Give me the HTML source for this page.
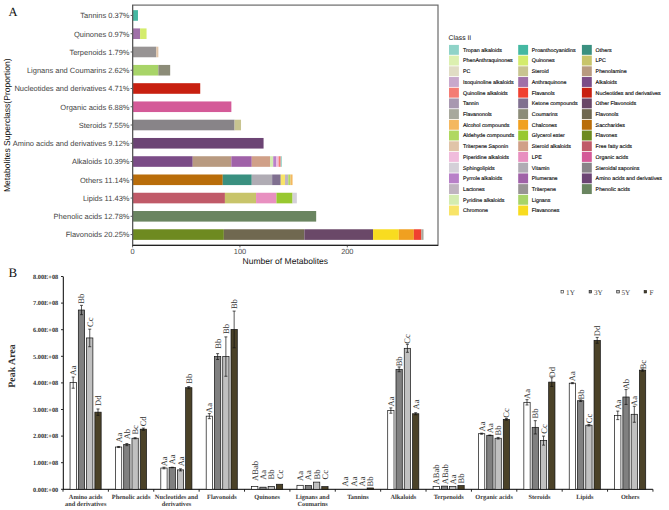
<!DOCTYPE html><html><head><meta charset="utf-8"><style>html,body{margin:0;padding:0;background:#fff;}svg{display:block;}</style></head><body>
<svg width="669" height="510" viewBox="0 0 669 510" text-rendering="geometricPrecision">
<rect x="0" y="0" width="669" height="510" fill="#fff"/>
<text x="8.4" y="16.2" font-family="Liberation Serif, serif" font-size="12.5" fill="#111">A</text>
<rect x="132.60" y="10.15" width="5.37" height="10.6" fill="#45b8a2"/>
<line x1="130.6" y1="15.45" x2="132.6" y2="15.45" stroke="#333" stroke-width="0.8"/>
<text x="129.50" y="18.25" text-anchor="end" font-family="Liberation Sans, sans-serif" font-size="7.5" fill="#444">Tannins 0.37%</text>
<rect x="132.60" y="28.41" width="7.51" height="10.6" fill="#a070a8"/>
<rect x="140.11" y="28.41" width="6.44" height="10.6" fill="#d4ec6c"/>
<line x1="130.6" y1="33.71" x2="132.6" y2="33.71" stroke="#333" stroke-width="0.8"/>
<text x="129.50" y="36.51" text-anchor="end" font-family="Liberation Sans, sans-serif" font-size="7.5" fill="#444">Quinones 0.97%</text>
<rect x="132.60" y="46.67" width="23.62" height="10.6" fill="#989494"/>
<rect x="156.22" y="46.67" width="2.15" height="10.6" fill="#e0c4a8"/>
<line x1="130.6" y1="51.97" x2="132.6" y2="51.97" stroke="#333" stroke-width="0.8"/>
<text x="129.50" y="54.77" text-anchor="end" font-family="Liberation Sans, sans-serif" font-size="7.5" fill="#444">Terpenoids 1.79%</text>
<rect x="132.60" y="64.93" width="25.76" height="10.6" fill="#a8d468"/>
<rect x="158.36" y="64.93" width="11.81" height="10.6" fill="#8c8c78"/>
<line x1="130.6" y1="70.23" x2="132.6" y2="70.23" stroke="#333" stroke-width="0.8"/>
<text x="129.50" y="73.03" text-anchor="end" font-family="Liberation Sans, sans-serif" font-size="7.5" fill="#444">Lignans and Coumarins 2.62%</text>
<rect x="132.60" y="83.19" width="67.63" height="10.6" fill="#c82010"/>
<line x1="130.6" y1="88.49" x2="132.6" y2="88.49" stroke="#333" stroke-width="0.8"/>
<text x="129.50" y="91.29" text-anchor="end" font-family="Liberation Sans, sans-serif" font-size="7.5" fill="#444">Nucleotides and derivatives 4.71%</text>
<rect x="132.60" y="101.45" width="98.76" height="10.6" fill="#d45a98"/>
<line x1="130.6" y1="106.75" x2="132.6" y2="106.75" stroke="#333" stroke-width="0.8"/>
<text x="129.50" y="109.55" text-anchor="end" font-family="Liberation Sans, sans-serif" font-size="7.5" fill="#444">Organic acids 6.88%</text>
<rect x="132.60" y="119.71" width="101.98" height="10.6" fill="#888488"/>
<rect x="234.58" y="119.71" width="6.44" height="10.6" fill="#c8c490"/>
<line x1="130.6" y1="125.01" x2="132.6" y2="125.01" stroke="#333" stroke-width="0.8"/>
<text x="129.50" y="127.81" text-anchor="end" font-family="Liberation Sans, sans-serif" font-size="7.5" fill="#444">Steroids 7.55%</text>
<rect x="132.60" y="137.97" width="130.97" height="10.6" fill="#6c4474"/>
<line x1="130.6" y1="143.27" x2="132.6" y2="143.27" stroke="#333" stroke-width="0.8"/>
<text x="129.50" y="146.07" text-anchor="end" font-family="Liberation Sans, sans-serif" font-size="7.5" fill="#444">Amino acids and derivatives 9.12%</text>
<rect x="132.60" y="156.23" width="60.12" height="10.6" fill="#7b4c87"/>
<rect x="192.72" y="156.23" width="38.65" height="10.6" fill="#b89a80"/>
<rect x="231.36" y="156.23" width="20.40" height="10.6" fill="#a062a8"/>
<rect x="251.76" y="156.23" width="18.25" height="10.6" fill="#d0a088"/>
<rect x="270.01" y="156.23" width="3.22" height="10.6" fill="#d4ecb0"/>
<rect x="273.23" y="156.23" width="3.22" height="10.6" fill="#b880c8"/>
<rect x="276.45" y="156.23" width="2.15" height="10.6" fill="#f0bcdc"/>
<rect x="278.60" y="156.23" width="2.15" height="10.6" fill="#f47c74"/>
<rect x="280.74" y="156.23" width="1.07" height="10.6" fill="#8fd3c8"/>
<line x1="130.6" y1="161.53" x2="132.6" y2="161.53" stroke="#333" stroke-width="0.8"/>
<text x="129.50" y="164.33" text-anchor="end" font-family="Liberation Sans, sans-serif" font-size="7.5" fill="#444">Alkaloids 10.39%</text>
<rect x="132.60" y="174.49" width="90.17" height="10.6" fill="#b96d0a"/>
<rect x="222.77" y="174.49" width="28.98" height="10.6" fill="#3a9080"/>
<rect x="251.76" y="174.49" width="20.40" height="10.6" fill="#b0acb4"/>
<rect x="272.15" y="174.49" width="8.59" height="10.6" fill="#807090"/>
<rect x="280.74" y="174.49" width="4.29" height="10.6" fill="#f8e468"/>
<rect x="285.04" y="174.49" width="3.22" height="10.6" fill="#c0b4c0"/>
<rect x="288.26" y="174.49" width="2.15" height="10.6" fill="#b0d860"/>
<rect x="290.40" y="174.49" width="2.15" height="10.6" fill="#f4b860"/>
<line x1="130.6" y1="179.79" x2="132.6" y2="179.79" stroke="#333" stroke-width="0.8"/>
<text x="129.50" y="182.59" text-anchor="end" font-family="Liberation Sans, sans-serif" font-size="7.5" fill="#444">Others 11.14%</text>
<rect x="132.60" y="192.75" width="92.32" height="10.6" fill="#c05a68"/>
<rect x="224.92" y="192.75" width="31.13" height="10.6" fill="#c8c46a"/>
<rect x="256.05" y="192.75" width="20.40" height="10.6" fill="#e890c0"/>
<rect x="276.45" y="192.75" width="16.10" height="10.6" fill="#98c830"/>
<rect x="292.55" y="192.75" width="4.29" height="10.6" fill="#d4d0d8"/>
<line x1="130.6" y1="198.05" x2="132.6" y2="198.05" stroke="#333" stroke-width="0.8"/>
<text x="129.50" y="200.85" text-anchor="end" font-family="Liberation Sans, sans-serif" font-size="7.5" fill="#444">Lipids 11.43%</text>
<rect x="132.60" y="211.01" width="183.57" height="10.6" fill="#6a8560"/>
<line x1="130.6" y1="216.31" x2="132.6" y2="216.31" stroke="#333" stroke-width="0.8"/>
<text x="129.50" y="219.11" text-anchor="end" font-family="Liberation Sans, sans-serif" font-size="7.5" fill="#444">Phenolic acids 12.78%</text>
<rect x="132.60" y="229.27" width="91.25" height="10.6" fill="#6e8a20"/>
<rect x="223.85" y="229.27" width="80.51" height="10.6" fill="#706850"/>
<rect x="304.36" y="229.27" width="68.70" height="10.6" fill="#6a4868"/>
<rect x="373.06" y="229.27" width="25.76" height="10.6" fill="#f8dc20"/>
<rect x="398.83" y="229.27" width="15.03" height="10.6" fill="#f0a020"/>
<rect x="413.86" y="229.27" width="7.51" height="10.6" fill="#f04030"/>
<rect x="421.37" y="229.27" width="2.15" height="10.6" fill="#a8a89c"/>
<line x1="130.6" y1="234.57" x2="132.6" y2="234.57" stroke="#333" stroke-width="0.8"/>
<text x="129.50" y="237.37" text-anchor="end" font-family="Liberation Sans, sans-serif" font-size="7.5" fill="#444">Flavonoids 20.25%</text>
<rect x="132.6" y="5.1" width="305.4" height="240.3" fill="none" stroke="#6a6a6a" stroke-width="1.2"/>
<line x1="132.6" y1="245.4" x2="438.0" y2="245.4" stroke="#222" stroke-width="1.1"/>
<line x1="132.6" y1="5.1" x2="132.6" y2="245.4" stroke="#5a5a5a" stroke-width="1.1"/>
<line x1="132.60" y1="245.4" x2="132.60" y2="247.4" stroke="#333" stroke-width="0.8"/>
<text x="132.60" y="254.00" text-anchor="middle" font-family="Liberation Sans, sans-serif" font-size="7.4" fill="#4d4d4d">0</text>
<line x1="239.95" y1="245.4" x2="239.95" y2="247.4" stroke="#333" stroke-width="0.8"/>
<text x="239.95" y="254.00" text-anchor="middle" font-family="Liberation Sans, sans-serif" font-size="7.4" fill="#4d4d4d">100</text>
<line x1="347.30" y1="245.4" x2="347.30" y2="247.4" stroke="#333" stroke-width="0.8"/>
<text x="347.30" y="254.00" text-anchor="middle" font-family="Liberation Sans, sans-serif" font-size="7.4" fill="#4d4d4d">200</text>
<text x="285.30" y="263.8" text-anchor="middle" font-family="Liberation Sans, sans-serif" font-size="8.5" fill="#111">Number of Metabolites</text>
<text transform="translate(10.2,125.25) rotate(-90)" text-anchor="middle" font-family="Liberation Sans, sans-serif" font-size="8.55" fill="#111">Metabolites Superclass(Proportion)</text>
<text x="448.6" y="40.4" font-family="Liberation Sans, sans-serif" font-size="6.8" fill="#111">Class II</text>
<rect x="449.0" y="44.90" width="9.9" height="9.9" fill="#8fd3c8"/>
<text x="463.0" y="51.75" font-family="Liberation Sans, sans-serif" font-size="5.34" fill="#000" stroke="#000" stroke-width="0.12">Tropan alkaloids</text>
<rect x="449.0" y="55.61" width="9.9" height="9.9" fill="#dcf0b0"/>
<text x="463.0" y="62.46" font-family="Liberation Sans, sans-serif" font-size="5.34" fill="#000" stroke="#000" stroke-width="0.12">PhenAnthraquinones</text>
<rect x="449.0" y="66.32" width="9.9" height="9.9" fill="#e0dcc4"/>
<text x="463.0" y="73.17" font-family="Liberation Sans, sans-serif" font-size="5.34" fill="#000" stroke="#000" stroke-width="0.12">PC</text>
<rect x="449.0" y="77.03" width="9.9" height="9.9" fill="#c8a8cc"/>
<text x="463.0" y="83.88" font-family="Liberation Sans, sans-serif" font-size="5.34" fill="#000" stroke="#000" stroke-width="0.12">Isoquinoline alkaloids</text>
<rect x="449.0" y="87.74" width="9.9" height="9.9" fill="#f47c74"/>
<text x="463.0" y="94.59" font-family="Liberation Sans, sans-serif" font-size="5.34" fill="#000" stroke="#000" stroke-width="0.12">Quinoline alkaloids</text>
<rect x="449.0" y="98.45" width="9.9" height="9.9" fill="#a898b0"/>
<text x="463.0" y="105.30" font-family="Liberation Sans, sans-serif" font-size="5.34" fill="#000" stroke="#000" stroke-width="0.12">Tannin</text>
<rect x="449.0" y="109.16" width="9.9" height="9.9" fill="#a8a89c"/>
<text x="463.0" y="116.01" font-family="Liberation Sans, sans-serif" font-size="5.34" fill="#000" stroke="#000" stroke-width="0.12">Flavanonols</text>
<rect x="449.0" y="119.87" width="9.9" height="9.9" fill="#f4b860"/>
<text x="463.0" y="126.72" font-family="Liberation Sans, sans-serif" font-size="5.34" fill="#000" stroke="#000" stroke-width="0.12">Alcohol compounds</text>
<rect x="449.0" y="130.58" width="9.9" height="9.9" fill="#b0d860"/>
<text x="463.0" y="137.43" font-family="Liberation Sans, sans-serif" font-size="5.34" fill="#000" stroke="#000" stroke-width="0.12">Aldehyde compounds</text>
<rect x="449.0" y="141.29" width="9.9" height="9.9" fill="#e0c4a8"/>
<text x="463.0" y="148.14" font-family="Liberation Sans, sans-serif" font-size="5.34" fill="#000" stroke="#000" stroke-width="0.12">Triterpene Saponin</text>
<rect x="449.0" y="152.00" width="9.9" height="9.9" fill="#f0bcdc"/>
<text x="463.0" y="158.85" font-family="Liberation Sans, sans-serif" font-size="5.34" fill="#000" stroke="#000" stroke-width="0.12">Piperidine alkaloids</text>
<rect x="449.0" y="162.71" width="9.9" height="9.9" fill="#d4d0d8"/>
<text x="463.0" y="169.56" font-family="Liberation Sans, sans-serif" font-size="5.34" fill="#000" stroke="#000" stroke-width="0.12">Sphingolipids</text>
<rect x="449.0" y="173.42" width="9.9" height="9.9" fill="#b880c8"/>
<text x="463.0" y="180.27" font-family="Liberation Sans, sans-serif" font-size="5.34" fill="#000" stroke="#000" stroke-width="0.12">Pyrrole alkaloids</text>
<rect x="449.0" y="184.13" width="9.9" height="9.9" fill="#c0b4c0"/>
<text x="463.0" y="190.98" font-family="Liberation Sans, sans-serif" font-size="5.34" fill="#000" stroke="#000" stroke-width="0.12">Lactones</text>
<rect x="449.0" y="194.84" width="9.9" height="9.9" fill="#d4ecb0"/>
<text x="463.0" y="201.69" font-family="Liberation Sans, sans-serif" font-size="5.34" fill="#000" stroke="#000" stroke-width="0.12">Pyridine alkaloids</text>
<rect x="449.0" y="205.55" width="9.9" height="9.9" fill="#f8e468"/>
<text x="463.0" y="212.40" font-family="Liberation Sans, sans-serif" font-size="5.34" fill="#000" stroke="#000" stroke-width="0.12">Chromone</text>
<rect x="518.2" y="44.90" width="9.9" height="9.9" fill="#45b8a2"/>
<text x="531.8" y="51.75" font-family="Liberation Sans, sans-serif" font-size="5.34" fill="#000" stroke="#000" stroke-width="0.12">Proanthocyanidins</text>
<rect x="518.2" y="55.61" width="9.9" height="9.9" fill="#d4ec6c"/>
<text x="531.8" y="62.46" font-family="Liberation Sans, sans-serif" font-size="5.34" fill="#000" stroke="#000" stroke-width="0.12">Quinones</text>
<rect x="518.2" y="66.32" width="9.9" height="9.9" fill="#c8c490"/>
<text x="531.8" y="73.17" font-family="Liberation Sans, sans-serif" font-size="5.34" fill="#000" stroke="#000" stroke-width="0.12">Steroid</text>
<rect x="518.2" y="77.03" width="9.9" height="9.9" fill="#a070a8"/>
<text x="531.8" y="83.88" font-family="Liberation Sans, sans-serif" font-size="5.34" fill="#000" stroke="#000" stroke-width="0.12">Anthraquinone</text>
<rect x="518.2" y="87.74" width="9.9" height="9.9" fill="#f04030"/>
<text x="531.8" y="94.59" font-family="Liberation Sans, sans-serif" font-size="5.34" fill="#000" stroke="#000" stroke-width="0.12">Flavanols</text>
<rect x="518.2" y="98.45" width="9.9" height="9.9" fill="#807090"/>
<text x="531.8" y="105.30" font-family="Liberation Sans, sans-serif" font-size="5.34" fill="#000" stroke="#000" stroke-width="0.12">Ketone compounds</text>
<rect x="518.2" y="109.16" width="9.9" height="9.9" fill="#8c8c78"/>
<text x="531.8" y="116.01" font-family="Liberation Sans, sans-serif" font-size="5.34" fill="#000" stroke="#000" stroke-width="0.12">Coumarins</text>
<rect x="518.2" y="119.87" width="9.9" height="9.9" fill="#f0a020"/>
<text x="531.8" y="126.72" font-family="Liberation Sans, sans-serif" font-size="5.34" fill="#000" stroke="#000" stroke-width="0.12">Chalcones</text>
<rect x="518.2" y="130.58" width="9.9" height="9.9" fill="#98c830"/>
<text x="531.8" y="137.43" font-family="Liberation Sans, sans-serif" font-size="5.34" fill="#000" stroke="#000" stroke-width="0.12">Glycerol ester</text>
<rect x="518.2" y="141.29" width="9.9" height="9.9" fill="#d0a088"/>
<text x="531.8" y="148.14" font-family="Liberation Sans, sans-serif" font-size="5.34" fill="#000" stroke="#000" stroke-width="0.12">Steroid alkaloids</text>
<rect x="518.2" y="152.00" width="9.9" height="9.9" fill="#e890c0"/>
<text x="531.8" y="158.85" font-family="Liberation Sans, sans-serif" font-size="5.34" fill="#000" stroke="#000" stroke-width="0.12">LPE</text>
<rect x="518.2" y="162.71" width="9.9" height="9.9" fill="#b0acb4"/>
<text x="531.8" y="169.56" font-family="Liberation Sans, sans-serif" font-size="5.34" fill="#000" stroke="#000" stroke-width="0.12">Vitamin</text>
<rect x="518.2" y="173.42" width="9.9" height="9.9" fill="#a062a8"/>
<text x="531.8" y="180.27" font-family="Liberation Sans, sans-serif" font-size="5.34" fill="#000" stroke="#000" stroke-width="0.12">Plumerane</text>
<rect x="518.2" y="184.13" width="9.9" height="9.9" fill="#989494"/>
<text x="531.8" y="190.98" font-family="Liberation Sans, sans-serif" font-size="5.34" fill="#000" stroke="#000" stroke-width="0.12">Triterpene</text>
<rect x="518.2" y="194.84" width="9.9" height="9.9" fill="#a8d468"/>
<text x="531.8" y="201.69" font-family="Liberation Sans, sans-serif" font-size="5.34" fill="#000" stroke="#000" stroke-width="0.12">Lignans</text>
<rect x="518.2" y="205.55" width="9.9" height="9.9" fill="#f8dc20"/>
<text x="531.8" y="212.40" font-family="Liberation Sans, sans-serif" font-size="5.34" fill="#000" stroke="#000" stroke-width="0.12">Flavanones</text>
<rect x="581.9" y="44.90" width="9.9" height="9.9" fill="#3a9080"/>
<text x="595.6" y="51.75" font-family="Liberation Sans, sans-serif" font-size="5.34" fill="#000" stroke="#000" stroke-width="0.12">Others</text>
<rect x="581.9" y="55.61" width="9.9" height="9.9" fill="#c8c46a"/>
<text x="595.6" y="62.46" font-family="Liberation Sans, sans-serif" font-size="5.34" fill="#000" stroke="#000" stroke-width="0.12">LPC</text>
<rect x="581.9" y="66.32" width="9.9" height="9.9" fill="#b89a80"/>
<text x="595.6" y="73.17" font-family="Liberation Sans, sans-serif" font-size="5.34" fill="#000" stroke="#000" stroke-width="0.12">Phenolamine</text>
<rect x="581.9" y="77.03" width="9.9" height="9.9" fill="#7b4c87"/>
<text x="595.6" y="83.88" font-family="Liberation Sans, sans-serif" font-size="5.34" fill="#000" stroke="#000" stroke-width="0.12">Alkaloids</text>
<rect x="581.9" y="87.74" width="9.9" height="9.9" fill="#c82010"/>
<text x="595.6" y="94.59" font-family="Liberation Sans, sans-serif" font-size="5.34" fill="#000" stroke="#000" stroke-width="0.12">Nucleotides and derivatives</text>
<rect x="581.9" y="98.45" width="9.9" height="9.9" fill="#6a4868"/>
<text x="595.6" y="105.30" font-family="Liberation Sans, sans-serif" font-size="5.34" fill="#000" stroke="#000" stroke-width="0.12">Other Flavonoids</text>
<rect x="581.9" y="109.16" width="9.9" height="9.9" fill="#706850"/>
<text x="595.6" y="116.01" font-family="Liberation Sans, sans-serif" font-size="5.34" fill="#000" stroke="#000" stroke-width="0.12">Flavonols</text>
<rect x="581.9" y="119.87" width="9.9" height="9.9" fill="#b96d0a"/>
<text x="595.6" y="126.72" font-family="Liberation Sans, sans-serif" font-size="5.34" fill="#000" stroke="#000" stroke-width="0.12">Saccharides</text>
<rect x="581.9" y="130.58" width="9.9" height="9.9" fill="#6e8a20"/>
<text x="595.6" y="137.43" font-family="Liberation Sans, sans-serif" font-size="5.34" fill="#000" stroke="#000" stroke-width="0.12">Flavones</text>
<rect x="581.9" y="141.29" width="9.9" height="9.9" fill="#c05a68"/>
<text x="595.6" y="148.14" font-family="Liberation Sans, sans-serif" font-size="5.34" fill="#000" stroke="#000" stroke-width="0.12">Free fatty acids</text>
<rect x="581.9" y="152.00" width="9.9" height="9.9" fill="#d45a98"/>
<text x="595.6" y="158.85" font-family="Liberation Sans, sans-serif" font-size="5.34" fill="#000" stroke="#000" stroke-width="0.12">Organic acids</text>
<rect x="581.9" y="162.71" width="9.9" height="9.9" fill="#888488"/>
<text x="595.6" y="169.56" font-family="Liberation Sans, sans-serif" font-size="5.34" fill="#000" stroke="#000" stroke-width="0.12">Steroidal saponins</text>
<rect x="581.9" y="173.42" width="9.9" height="9.9" fill="#6c4474"/>
<text x="595.6" y="180.27" font-family="Liberation Sans, sans-serif" font-size="5.34" fill="#000" stroke="#000" stroke-width="0.12">Amino acids and derivatives</text>
<rect x="581.9" y="184.13" width="9.9" height="9.9" fill="#6a8560"/>
<text x="595.6" y="190.98" font-family="Liberation Sans, sans-serif" font-size="5.34" fill="#000" stroke="#000" stroke-width="0.12">Phenolic acids</text>
<text x="8.4" y="277.2" font-family="Liberation Serif, serif" font-size="13" fill="#111">B</text>
<line x1="63.3" y1="276.5" x2="63.3" y2="489.3" stroke="#000" stroke-width="1"/>
<line x1="63.0" y1="489.3" x2="652.9" y2="489.3" stroke="#000" stroke-width="1"/>
<line x1="61.0" y1="489.30" x2="63.0" y2="489.30" stroke="#111" stroke-width="0.9"/>
<text x="58.2" y="491.50" text-anchor="end" font-family="Liberation Serif, serif" font-weight="bold" font-size="6.3" fill="#333">0.00E+00</text>
<line x1="61.0" y1="462.70" x2="63.0" y2="462.70" stroke="#111" stroke-width="0.9"/>
<text x="58.2" y="464.90" text-anchor="end" font-family="Liberation Serif, serif" font-weight="bold" font-size="6.3" fill="#333">1.00E+08</text>
<line x1="61.0" y1="436.10" x2="63.0" y2="436.10" stroke="#111" stroke-width="0.9"/>
<text x="58.2" y="438.30" text-anchor="end" font-family="Liberation Serif, serif" font-weight="bold" font-size="6.3" fill="#333">2.00E+08</text>
<line x1="61.0" y1="409.50" x2="63.0" y2="409.50" stroke="#111" stroke-width="0.9"/>
<text x="58.2" y="411.70" text-anchor="end" font-family="Liberation Serif, serif" font-weight="bold" font-size="6.3" fill="#333">3.00E+08</text>
<line x1="61.0" y1="382.90" x2="63.0" y2="382.90" stroke="#111" stroke-width="0.9"/>
<text x="58.2" y="385.10" text-anchor="end" font-family="Liberation Serif, serif" font-weight="bold" font-size="6.3" fill="#333">4.00E+08</text>
<line x1="61.0" y1="356.30" x2="63.0" y2="356.30" stroke="#111" stroke-width="0.9"/>
<text x="58.2" y="358.50" text-anchor="end" font-family="Liberation Serif, serif" font-weight="bold" font-size="6.3" fill="#333">5.00E+08</text>
<line x1="61.0" y1="329.70" x2="63.0" y2="329.70" stroke="#111" stroke-width="0.9"/>
<text x="58.2" y="331.90" text-anchor="end" font-family="Liberation Serif, serif" font-weight="bold" font-size="6.3" fill="#333">6.00E+08</text>
<line x1="61.0" y1="303.10" x2="63.0" y2="303.10" stroke="#111" stroke-width="0.9"/>
<text x="58.2" y="305.30" text-anchor="end" font-family="Liberation Serif, serif" font-weight="bold" font-size="6.3" fill="#333">7.00E+08</text>
<line x1="61.0" y1="276.50" x2="63.0" y2="276.50" stroke="#111" stroke-width="0.9"/>
<text x="58.2" y="278.70" text-anchor="end" font-family="Liberation Serif, serif" font-weight="bold" font-size="6.3" fill="#333">8.00E+08</text>
<line x1="63.00" y1="489.3" x2="63.00" y2="491.7" stroke="#111" stroke-width="0.9"/>
<line x1="108.38" y1="489.3" x2="108.38" y2="491.7" stroke="#111" stroke-width="0.9"/>
<line x1="153.76" y1="489.3" x2="153.76" y2="491.7" stroke="#111" stroke-width="0.9"/>
<line x1="199.14" y1="489.3" x2="199.14" y2="491.7" stroke="#111" stroke-width="0.9"/>
<line x1="244.52" y1="489.3" x2="244.52" y2="491.7" stroke="#111" stroke-width="0.9"/>
<line x1="289.90" y1="489.3" x2="289.90" y2="491.7" stroke="#111" stroke-width="0.9"/>
<line x1="335.28" y1="489.3" x2="335.28" y2="491.7" stroke="#111" stroke-width="0.9"/>
<line x1="380.66" y1="489.3" x2="380.66" y2="491.7" stroke="#111" stroke-width="0.9"/>
<line x1="426.04" y1="489.3" x2="426.04" y2="491.7" stroke="#111" stroke-width="0.9"/>
<line x1="471.42" y1="489.3" x2="471.42" y2="491.7" stroke="#111" stroke-width="0.9"/>
<line x1="516.80" y1="489.3" x2="516.80" y2="491.7" stroke="#111" stroke-width="0.9"/>
<line x1="562.18" y1="489.3" x2="562.18" y2="491.7" stroke="#111" stroke-width="0.9"/>
<line x1="607.56" y1="489.3" x2="607.56" y2="491.7" stroke="#111" stroke-width="0.9"/>
<line x1="652.94" y1="489.3" x2="652.94" y2="491.7" stroke="#111" stroke-width="0.9"/>
<text transform="translate(14.8,366) rotate(-90)" text-anchor="middle" font-family="Liberation Serif, serif" font-weight="bold" font-size="9.9" fill="#333">Peak Area</text>
<rect x="70.05" y="382.63" width="6.3" height="106.67" fill="#ffffff" stroke="#111" stroke-width="0.7"/>
<path d="M71.70,377.05H74.70M73.20,377.05V388.22M71.70,388.22H74.70" stroke="#111" stroke-width="0.7" fill="none"/>
<text transform="translate(76.20,375.40) rotate(-90)" font-family="Liberation Serif, serif" font-size="8.5" fill="#333">Aa</text>
<rect x="78.32" y="310.02" width="6.3" height="179.28" fill="#808080" stroke="#111" stroke-width="0.7"/>
<path d="M79.97,305.36H82.97M81.47,305.36V314.67M79.97,314.67H82.97" stroke="#111" stroke-width="0.7" fill="none"/>
<text transform="translate(84.47,303.70) rotate(-90)" font-family="Liberation Serif, serif" font-size="8.5" fill="#333">Bb</text>
<rect x="86.59" y="337.95" width="6.3" height="151.35" fill="#c0c0c0" stroke="#111" stroke-width="0.7"/>
<path d="M88.24,329.17H91.24M89.74,329.17V346.72M88.24,346.72H91.24" stroke="#111" stroke-width="0.7" fill="none"/>
<text transform="translate(92.74,327.00) rotate(-90)" font-family="Liberation Serif, serif" font-size="8.5" fill="#333">Cc</text>
<rect x="94.86" y="412.16" width="6.3" height="77.14" fill="#4b4228" stroke="#111" stroke-width="0.7"/>
<path d="M96.51,408.97H99.51M98.01,408.97V415.35M96.51,415.35H99.51" stroke="#111" stroke-width="0.7" fill="none"/>
<text transform="translate(101.01,405.90) rotate(-90)" font-family="Liberation Serif, serif" font-size="8.5" fill="#333">Dd</text>
<text x="85.69" y="498.9" text-anchor="middle" font-family="Liberation Serif, serif" font-weight="bold" font-size="6.35" fill="#3a3a3a">Amino acids</text>
<text x="85.69" y="506.2" text-anchor="middle" font-family="Liberation Serif, serif" font-weight="bold" font-size="6.35" fill="#3a3a3a">and derivatives</text>
<rect x="115.43" y="447.01" width="6.3" height="42.29" fill="#ffffff" stroke="#111" stroke-width="0.7"/>
<path d="M117.08,446.47H120.08M118.58,446.47V447.54M117.08,447.54H120.08" stroke="#111" stroke-width="0.7" fill="none"/>
<text transform="translate(121.58,442.60) rotate(-90)" font-family="Liberation Serif, serif" font-size="8.5" fill="#333">Aa</text>
<rect x="123.70" y="444.61" width="6.3" height="44.69" fill="#808080" stroke="#111" stroke-width="0.7"/>
<path d="M125.35,443.55H128.35M126.85,443.55V445.68M125.35,445.68H128.35" stroke="#111" stroke-width="0.7" fill="none"/>
<text transform="translate(129.85,439.30) rotate(-90)" font-family="Liberation Serif, serif" font-size="8.5" fill="#333">Ab</text>
<rect x="131.97" y="438.23" width="6.3" height="51.07" fill="#c0c0c0" stroke="#111" stroke-width="0.7"/>
<path d="M133.62,437.70H136.62M135.12,437.70V438.76M133.62,438.76H136.62" stroke="#111" stroke-width="0.7" fill="none"/>
<text transform="translate(138.12,434.60) rotate(-90)" font-family="Liberation Serif, serif" font-size="8.5" fill="#333">Bc</text>
<rect x="140.24" y="429.18" width="6.3" height="60.12" fill="#4b4228" stroke="#111" stroke-width="0.7"/>
<path d="M141.89,428.12H144.89M143.39,428.12V430.25M141.89,430.25H144.89" stroke="#111" stroke-width="0.7" fill="none"/>
<text transform="translate(146.39,426.30) rotate(-90)" font-family="Liberation Serif, serif" font-size="8.5" fill="#333">Cd</text>
<text x="131.07" y="498.9" text-anchor="middle" font-family="Liberation Serif, serif" font-weight="bold" font-size="6.35" fill="#3a3a3a">Phenolic acids</text>
<rect x="160.81" y="468.02" width="6.3" height="21.28" fill="#ffffff" stroke="#111" stroke-width="0.7"/>
<path d="M162.46,467.22H165.46M163.96,467.22V468.82M162.46,468.82H165.46" stroke="#111" stroke-width="0.7" fill="none"/>
<text transform="translate(166.96,466.30) rotate(-90)" font-family="Liberation Serif, serif" font-size="8.5" fill="#333">Aa</text>
<rect x="169.08" y="467.49" width="6.3" height="21.81" fill="#808080" stroke="#111" stroke-width="0.7"/>
<path d="M170.73,467.22H173.73M172.23,467.22V467.75M170.73,467.75H173.73" stroke="#111" stroke-width="0.7" fill="none"/>
<text transform="translate(175.23,464.50) rotate(-90)" font-family="Liberation Serif, serif" font-size="8.5" fill="#333">Aa</text>
<rect x="177.35" y="469.88" width="6.3" height="19.42" fill="#c0c0c0" stroke="#111" stroke-width="0.7"/>
<path d="M179.00,468.82H182.00M180.50,468.82V470.95M179.00,470.95H182.00" stroke="#111" stroke-width="0.7" fill="none"/>
<text transform="translate(183.50,466.30) rotate(-90)" font-family="Liberation Serif, serif" font-size="8.5" fill="#333">Aa</text>
<rect x="185.62" y="387.69" width="6.3" height="101.61" fill="#4b4228" stroke="#111" stroke-width="0.7"/>
<path d="M187.27,386.62H190.27M188.77,386.62V388.75M187.27,388.75H190.27" stroke="#111" stroke-width="0.7" fill="none"/>
<text transform="translate(191.77,383.70) rotate(-90)" font-family="Liberation Serif, serif" font-size="8.5" fill="#333">Bb</text>
<text x="176.45" y="498.9" text-anchor="middle" font-family="Liberation Serif, serif" font-weight="bold" font-size="6.35" fill="#3a3a3a">Nucleotides and</text>
<text x="176.45" y="506.2" text-anchor="middle" font-family="Liberation Serif, serif" font-weight="bold" font-size="6.35" fill="#3a3a3a">derivatives</text>
<rect x="206.19" y="416.15" width="6.3" height="73.15" fill="#ffffff" stroke="#111" stroke-width="0.7"/>
<path d="M207.84,413.62H210.84M209.34,413.62V418.68M207.84,418.68H210.84" stroke="#111" stroke-width="0.7" fill="none"/>
<text transform="translate(212.34,412.90) rotate(-90)" font-family="Liberation Serif, serif" font-size="8.5" fill="#333">Aa</text>
<rect x="214.46" y="356.57" width="6.3" height="132.73" fill="#808080" stroke="#111" stroke-width="0.7"/>
<path d="M216.11,353.64H219.11M217.61,353.64V359.49M216.11,359.49H219.11" stroke="#111" stroke-width="0.7" fill="none"/>
<text transform="translate(220.61,348.70) rotate(-90)" font-family="Liberation Serif, serif" font-size="8.5" fill="#333">Bb</text>
<rect x="222.73" y="356.57" width="6.3" height="132.73" fill="#c0c0c0" stroke="#111" stroke-width="0.7"/>
<path d="M224.38,336.88H227.38M225.88,336.88V376.25M224.38,376.25H227.38" stroke="#111" stroke-width="0.7" fill="none"/>
<text transform="translate(228.88,334.00) rotate(-90)" font-family="Liberation Serif, serif" font-size="8.5" fill="#333">Bb</text>
<rect x="231.00" y="329.43" width="6.3" height="159.87" fill="#4b4228" stroke="#111" stroke-width="0.7"/>
<path d="M232.65,311.08H235.65M234.15,311.08V347.79M232.65,347.79H235.65" stroke="#111" stroke-width="0.7" fill="none"/>
<text transform="translate(237.15,309.10) rotate(-90)" font-family="Liberation Serif, serif" font-size="8.5" fill="#333">Bb</text>
<text x="221.83" y="498.9" text-anchor="middle" font-family="Liberation Serif, serif" font-weight="bold" font-size="6.35" fill="#3a3a3a">Flavonoids</text>
<rect x="251.57" y="486.37" width="6.3" height="2.93" fill="#ffffff" stroke="#111" stroke-width="0.7"/>
<text transform="translate(257.72,480.90) rotate(-90)" font-family="Liberation Serif, serif" font-size="8.5" fill="#333">ABab</text>
<rect x="259.84" y="487.17" width="6.3" height="2.13" fill="#808080" stroke="#111" stroke-width="0.7"/>
<text transform="translate(265.99,479.80) rotate(-90)" font-family="Liberation Serif, serif" font-size="8.5" fill="#333">Aa</text>
<rect x="268.11" y="486.37" width="6.3" height="2.93" fill="#c0c0c0" stroke="#111" stroke-width="0.7"/>
<text transform="translate(274.26,479.40) rotate(-90)" font-family="Liberation Serif, serif" font-size="8.5" fill="#333">Bb</text>
<rect x="276.38" y="484.25" width="6.3" height="5.05" fill="#4b4228" stroke="#111" stroke-width="0.7"/>
<text transform="translate(282.53,479.10) rotate(-90)" font-family="Liberation Serif, serif" font-size="8.5" fill="#333">Cc</text>
<text x="267.21" y="498.9" text-anchor="middle" font-family="Liberation Serif, serif" font-weight="bold" font-size="6.35" fill="#3a3a3a">Quinones</text>
<rect x="296.95" y="485.31" width="6.3" height="3.99" fill="#ffffff" stroke="#111" stroke-width="0.7"/>
<text transform="translate(303.10,480.90) rotate(-90)" font-family="Liberation Serif, serif" font-size="8.5" fill="#333">Aa</text>
<rect x="305.22" y="485.58" width="6.3" height="3.72" fill="#808080" stroke="#111" stroke-width="0.7"/>
<text transform="translate(311.37,480.20) rotate(-90)" font-family="Liberation Serif, serif" font-size="8.5" fill="#333">Aa</text>
<rect x="313.49" y="482.12" width="6.3" height="7.18" fill="#c0c0c0" stroke="#111" stroke-width="0.7"/>
<text transform="translate(319.64,479.40) rotate(-90)" font-family="Liberation Serif, serif" font-size="8.5" fill="#333">Bb</text>
<rect x="321.76" y="486.64" width="6.3" height="2.66" fill="#4b4228" stroke="#111" stroke-width="0.7"/>
<text transform="translate(327.91,479.40) rotate(-90)" font-family="Liberation Serif, serif" font-size="8.5" fill="#333">Cc</text>
<text x="312.59" y="498.9" text-anchor="middle" font-family="Liberation Serif, serif" font-weight="bold" font-size="6.35" fill="#3a3a3a">Lignans and</text>
<text x="312.59" y="506.2" text-anchor="middle" font-family="Liberation Serif, serif" font-weight="bold" font-size="6.35" fill="#3a3a3a">Coumarins</text>
<text transform="translate(348.48,486.50) rotate(-90)" font-family="Liberation Serif, serif" font-size="8.5" fill="#333">Aa</text>
<text transform="translate(356.75,486.50) rotate(-90)" font-family="Liberation Serif, serif" font-size="8.5" fill="#333">Aa</text>
<text transform="translate(365.02,486.50) rotate(-90)" font-family="Liberation Serif, serif" font-size="8.5" fill="#333">Aa</text>
<rect x="367.14" y="487.97" width="6.3" height="1.33" fill="#4b4228" stroke="#111" stroke-width="0.7"/>
<text transform="translate(373.29,486.50) rotate(-90)" font-family="Liberation Serif, serif" font-size="8.5" fill="#333">Bb</text>
<text x="357.97" y="498.9" text-anchor="middle" font-family="Liberation Serif, serif" font-weight="bold" font-size="6.35" fill="#3a3a3a">Tannins</text>
<rect x="387.71" y="410.56" width="6.3" height="78.74" fill="#ffffff" stroke="#111" stroke-width="0.7"/>
<path d="M389.36,407.90H392.36M390.86,407.90V413.22M389.36,413.22H392.36" stroke="#111" stroke-width="0.7" fill="none"/>
<text transform="translate(393.86,406.50) rotate(-90)" font-family="Liberation Serif, serif" font-size="8.5" fill="#333">Aa</text>
<rect x="395.98" y="369.33" width="6.3" height="119.97" fill="#808080" stroke="#111" stroke-width="0.7"/>
<path d="M397.63,366.94H400.63M399.13,366.94V371.73M397.63,371.73H400.63" stroke="#111" stroke-width="0.7" fill="none"/>
<text transform="translate(402.13,366.30) rotate(-90)" font-family="Liberation Serif, serif" font-size="8.5" fill="#333">Bb</text>
<rect x="404.25" y="348.32" width="6.3" height="140.98" fill="#c0c0c0" stroke="#111" stroke-width="0.7"/>
<path d="M405.90,344.33H408.90M407.40,344.33V352.31M405.90,352.31H408.90" stroke="#111" stroke-width="0.7" fill="none"/>
<text transform="translate(410.40,343.70) rotate(-90)" font-family="Liberation Serif, serif" font-size="8.5" fill="#333">Cc</text>
<rect x="412.52" y="413.76" width="6.3" height="75.54" fill="#4b4228" stroke="#111" stroke-width="0.7"/>
<path d="M414.17,412.69H417.17M415.67,412.69V414.82M414.17,414.82H417.17" stroke="#111" stroke-width="0.7" fill="none"/>
<text transform="translate(418.67,409.40) rotate(-90)" font-family="Liberation Serif, serif" font-size="8.5" fill="#333">Aa</text>
<text x="403.35" y="498.9" text-anchor="middle" font-family="Liberation Serif, serif" font-weight="bold" font-size="6.35" fill="#3a3a3a">Alkaloids</text>
<rect x="433.09" y="486.37" width="6.3" height="2.93" fill="#ffffff" stroke="#111" stroke-width="0.7"/>
<text transform="translate(439.24,484.40) rotate(-90)" font-family="Liberation Serif, serif" font-size="8.5" fill="#333">ABab</text>
<rect x="441.36" y="486.11" width="6.3" height="3.19" fill="#808080" stroke="#111" stroke-width="0.7"/>
<text transform="translate(447.51,484.20) rotate(-90)" font-family="Liberation Serif, serif" font-size="8.5" fill="#333">ABab</text>
<rect x="449.63" y="486.64" width="6.3" height="2.66" fill="#c0c0c0" stroke="#111" stroke-width="0.7"/>
<text transform="translate(455.78,484.40) rotate(-90)" font-family="Liberation Serif, serif" font-size="8.5" fill="#333">Aa</text>
<rect x="457.90" y="485.58" width="6.3" height="3.72" fill="#4b4228" stroke="#111" stroke-width="0.7"/>
<text transform="translate(464.05,483.50) rotate(-90)" font-family="Liberation Serif, serif" font-size="8.5" fill="#333">Bb</text>
<text x="448.73" y="498.9" text-anchor="middle" font-family="Liberation Serif, serif" font-weight="bold" font-size="6.35" fill="#3a3a3a">Terpenoids</text>
<rect x="478.47" y="433.71" width="6.3" height="55.59" fill="#ffffff" stroke="#111" stroke-width="0.7"/>
<path d="M480.12,433.17H483.12M481.62,433.17V434.24M480.12,434.24H483.12" stroke="#111" stroke-width="0.7" fill="none"/>
<text transform="translate(484.62,431.50) rotate(-90)" font-family="Liberation Serif, serif" font-size="8.5" fill="#333">Aa</text>
<rect x="486.74" y="435.30" width="6.3" height="54.00" fill="#808080" stroke="#111" stroke-width="0.7"/>
<path d="M488.39,435.04H491.39M489.89,435.04V435.57M488.39,435.57H491.39" stroke="#111" stroke-width="0.7" fill="none"/>
<text transform="translate(492.89,433.20) rotate(-90)" font-family="Liberation Serif, serif" font-size="8.5" fill="#333">Aa</text>
<rect x="495.01" y="438.23" width="6.3" height="51.07" fill="#c0c0c0" stroke="#111" stroke-width="0.7"/>
<path d="M496.66,437.43H499.66M498.16,437.43V439.03M496.66,439.03H499.66" stroke="#111" stroke-width="0.7" fill="none"/>
<text transform="translate(501.16,435.50) rotate(-90)" font-family="Liberation Serif, serif" font-size="8.5" fill="#333">Bb</text>
<rect x="503.28" y="419.34" width="6.3" height="69.96" fill="#4b4228" stroke="#111" stroke-width="0.7"/>
<path d="M504.93,418.54H507.93M506.43,418.54V420.14M504.93,420.14H507.93" stroke="#111" stroke-width="0.7" fill="none"/>
<text transform="translate(509.43,417.70) rotate(-90)" font-family="Liberation Serif, serif" font-size="8.5" fill="#333">Cc</text>
<text x="494.11" y="498.9" text-anchor="middle" font-family="Liberation Serif, serif" font-weight="bold" font-size="6.35" fill="#3a3a3a">Organic acids</text>
<rect x="523.85" y="402.32" width="6.3" height="86.98" fill="#ffffff" stroke="#111" stroke-width="0.7"/>
<path d="M525.50,399.66H528.50M527.00,399.66V404.98M525.50,404.98H528.50" stroke="#111" stroke-width="0.7" fill="none"/>
<text transform="translate(530.00,399.00) rotate(-90)" font-family="Liberation Serif, serif" font-size="8.5" fill="#333">Aa</text>
<rect x="532.12" y="427.32" width="6.3" height="61.98" fill="#808080" stroke="#111" stroke-width="0.7"/>
<path d="M533.77,420.67H536.77M535.27,420.67V433.97M533.77,433.97H536.77" stroke="#111" stroke-width="0.7" fill="none"/>
<text transform="translate(538.27,418.40) rotate(-90)" font-family="Liberation Serif, serif" font-size="8.5" fill="#333">Bb</text>
<rect x="540.39" y="440.62" width="6.3" height="48.68" fill="#c0c0c0" stroke="#111" stroke-width="0.7"/>
<path d="M542.04,436.10H545.04M543.54,436.10V445.14M542.04,445.14H545.04" stroke="#111" stroke-width="0.7" fill="none"/>
<text transform="translate(546.54,433.70) rotate(-90)" font-family="Liberation Serif, serif" font-size="8.5" fill="#333">Cc</text>
<rect x="548.66" y="382.10" width="6.3" height="107.20" fill="#4b4228" stroke="#111" stroke-width="0.7"/>
<path d="M550.31,377.71H553.31M551.81,377.71V386.49M550.31,386.49H553.31" stroke="#111" stroke-width="0.7" fill="none"/>
<text transform="translate(554.81,377.50) rotate(-90)" font-family="Liberation Serif, serif" font-size="8.5" fill="#333">Dd</text>
<text x="539.49" y="498.9" text-anchor="middle" font-family="Liberation Serif, serif" font-weight="bold" font-size="6.35" fill="#3a3a3a">Steroids</text>
<rect x="569.23" y="383.17" width="6.3" height="106.13" fill="#ffffff" stroke="#111" stroke-width="0.7"/>
<path d="M570.88,382.63H573.88M572.38,382.63V383.70M570.88,383.70H573.88" stroke="#111" stroke-width="0.7" fill="none"/>
<text transform="translate(575.38,381.20) rotate(-90)" font-family="Liberation Serif, serif" font-size="8.5" fill="#333">Aa</text>
<rect x="577.50" y="400.72" width="6.3" height="88.58" fill="#808080" stroke="#111" stroke-width="0.7"/>
<path d="M579.15,399.92H582.15M580.65,399.92V401.52M579.15,401.52H582.15" stroke="#111" stroke-width="0.7" fill="none"/>
<text transform="translate(583.65,399.50) rotate(-90)" font-family="Liberation Serif, serif" font-size="8.5" fill="#333">Bb</text>
<rect x="585.77" y="425.19" width="6.3" height="64.11" fill="#c0c0c0" stroke="#111" stroke-width="0.7"/>
<path d="M587.42,424.40H590.42M588.92,424.40V425.99M587.42,425.99H590.42" stroke="#111" stroke-width="0.7" fill="none"/>
<text transform="translate(591.92,423.20) rotate(-90)" font-family="Liberation Serif, serif" font-size="8.5" fill="#333">Cc</text>
<rect x="594.04" y="340.34" width="6.3" height="148.96" fill="#4b4228" stroke="#111" stroke-width="0.7"/>
<path d="M595.69,337.41H598.69M597.19,337.41V343.27M595.69,343.27H598.69" stroke="#111" stroke-width="0.7" fill="none"/>
<text transform="translate(600.19,336.20) rotate(-90)" font-family="Liberation Serif, serif" font-size="8.5" fill="#333">Dd</text>
<text x="584.87" y="498.9" text-anchor="middle" font-family="Liberation Serif, serif" font-weight="bold" font-size="6.35" fill="#3a3a3a">Lipids</text>
<rect x="614.61" y="415.35" width="6.3" height="73.95" fill="#ffffff" stroke="#111" stroke-width="0.7"/>
<path d="M616.26,411.10H619.26M617.76,411.10V419.61M616.26,419.61H619.26" stroke="#111" stroke-width="0.7" fill="none"/>
<text transform="translate(620.76,409.60) rotate(-90)" font-family="Liberation Serif, serif" font-size="8.5" fill="#333">Aa</text>
<rect x="622.88" y="397.00" width="6.3" height="92.30" fill="#808080" stroke="#111" stroke-width="0.7"/>
<path d="M624.53,389.55H627.53M626.03,389.55V404.45M624.53,404.45H627.53" stroke="#111" stroke-width="0.7" fill="none"/>
<text transform="translate(629.03,389.30) rotate(-90)" font-family="Liberation Serif, serif" font-size="8.5" fill="#333">Ab</text>
<rect x="631.15" y="414.29" width="6.3" height="75.01" fill="#c0c0c0" stroke="#111" stroke-width="0.7"/>
<path d="M632.80,406.31H635.80M634.30,406.31V422.27M632.80,422.27H635.80" stroke="#111" stroke-width="0.7" fill="none"/>
<text transform="translate(637.30,405.90) rotate(-90)" font-family="Liberation Serif, serif" font-size="8.5" fill="#333">Aa</text>
<rect x="639.42" y="370.13" width="6.3" height="119.17" fill="#4b4228" stroke="#111" stroke-width="0.7"/>
<path d="M641.07,369.07H644.07M642.57,369.07V371.20M641.07,371.20H644.07" stroke="#111" stroke-width="0.7" fill="none"/>
<text transform="translate(645.57,369.30) rotate(-90)" font-family="Liberation Serif, serif" font-size="8.5" fill="#333">Bc</text>
<text x="630.25" y="498.9" text-anchor="middle" font-family="Liberation Serif, serif" font-weight="bold" font-size="6.35" fill="#3a3a3a">Others</text>
<rect x="561" y="290.4" width="2.6" height="2.6" fill="#ffffff" stroke="#222" stroke-width="0.6"/>
<text x="566.1" y="294.5" font-family="Liberation Serif, serif" font-size="7.2" fill="#444">1Y</text>
<rect x="589.1" y="290.4" width="2.6" height="2.6" fill="#808080" stroke="#222" stroke-width="0.6"/>
<text x="593.9" y="294.5" font-family="Liberation Serif, serif" font-size="7.2" fill="#444">3Y</text>
<rect x="616.7" y="290.4" width="2.6" height="2.6" fill="#c0c0c0" stroke="#222" stroke-width="0.6"/>
<text x="621.5" y="294.5" font-family="Liberation Serif, serif" font-size="7.2" fill="#444">5Y</text>
<rect x="644.1" y="290.4" width="2.6" height="2.6" fill="#4b4228" stroke="#222" stroke-width="0.6"/>
<text x="649.6" y="294.5" font-family="Liberation Serif, serif" font-size="7.2" fill="#444">F</text>
</svg></body></html>
